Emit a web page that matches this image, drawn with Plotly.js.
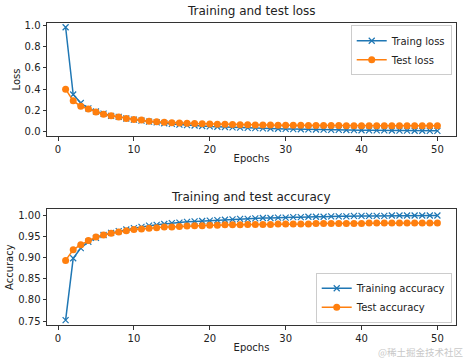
<!DOCTYPE html>
<html><head><meta charset="utf-8">
<script src="https://cdn.plot.ly/plotly-3.0.1.min.js"></script>
<style>html,body{margin:0;padding:0;background:#fff}#chart{width:474px;height:361px}</style>
</head><body><div id="chart"></div>
<script>
const epochs = Array.from({length: 50}, (_, i) => i + 1);
const trainLoss = [0.98,0.35,0.27,0.22,0.19,0.17,0.15,0.14,0.125,0.115,0.105,0.095,0.088,0.08,0.074,0.068,0.063,0.059,0.055,0.051,0.048,0.045,0.042,0.04,0.037,0.035,0.033,0.031,0.029,0.027,0.026,0.024,0.023,0.022,0.02,0.019,0.018,0.017,0.016,0.015,0.014,0.013,0.013,0.012,0.011,0.011,0.01,0.01,0.009,0.009];
const testLoss = [0.40,0.29,0.24,0.215,0.185,0.165,0.15,0.14,0.125,0.115,0.11,0.1,0.095,0.09,0.085,0.083,0.08,0.077,0.075,0.073,0.072,0.07,0.068,0.067,0.066,0.065,0.064,0.063,0.062,0.062,0.061,0.061,0.06,0.06,0.06,0.059,0.059,0.058,0.058,0.058,0.058,0.057,0.057,0.057,0.057,0.057,0.056,0.056,0.056,0.056];
const trainAcc = [0.752,0.898,0.922,0.937,0.946,0.953,0.958,0.962,0.966,0.969,0.972,0.975,0.977,0.979,0.981,0.982,0.984,0.985,0.986,0.987,0.988,0.989,0.990,0.991,0.991,0.992,0.993,0.993,0.994,0.994,0.995,0.995,0.996,0.996,0.996,0.997,0.997,0.997,0.998,0.998,0.998,0.998,0.998,0.999,0.999,0.999,0.999,0.999,0.999,0.999];
const testAcc = [0.893,0.918,0.930,0.940,0.948,0.953,0.957,0.960,0.963,0.966,0.967,0.969,0.970,0.972,0.972,0.973,0.974,0.975,0.975,0.976,0.976,0.977,0.977,0.977,0.978,0.978,0.978,0.978,0.979,0.979,0.979,0.979,0.979,0.980,0.980,0.980,0.980,0.980,0.980,0.980,0.981,0.981,0.981,0.981,0.981,0.981,0.981,0.981,0.981,0.981];
const xTicks = [0,10,20,30,40,50];
const lossTicks = [0.0,0.2,0.4,0.6,0.8,1.0];
const accTicks = [0.75,0.80,0.85,0.90,0.95,1.00];

const blue = '#1f77b4', orange = '#ff7f0e';
const font = {family: 'DejaVu Sans, sans-serif', size: 10, color: '#222'};

function tr(x, y, name, sym, color, xa, ya, leg) {
  return {x, y, name, type: 'scatter', mode: 'lines+markers', xaxis: xa, yaxis: ya, legend: leg,
    line: {color, width: 1.5},
    marker: sym === 'x' ? {symbol: 'x-thin', size: 6, line: {color, width: 1.2}, color}
                        : {symbol: 'circle', size: 7, color}};
}
const data = [
  tr(epochs, trainLoss, 'Traing loss', 'x', blue, 'x', 'y', 'legend'),
  tr(epochs, testLoss, 'Test loss', 'o', orange, 'x', 'y', 'legend'),
  tr(epochs, trainAcc, 'Training accuracy', 'x', blue, 'x2', 'y2', 'legend2'),
  tr(epochs, testAcc, 'Test accuracy', 'o', orange, 'x2', 'y2', 'legend2')
];
const axBase = {showgrid: false, zeroline: false, showline: true, mirror: true, linecolor: '#333', linewidth: 1,
  ticks: 'outside', ticklen: 3.5, tickcolor: '#333', tickfont: font};
const legBase = {bgcolor: 'rgba(255,255,255,0.8)', bordercolor: '#ccc', borderwidth: 1, font: font, tracegroupgap: 0, itemwidth: 30};
const layout = {
  width: 474, height: 361, margin: {l: 0, r: 0, t: 0, b: 0},
  paper_bgcolor: '#fff', plot_bgcolor: '#fff', font: font,
  xaxis: Object.assign({}, axBase, {domain: [0.0992, 0.962], anchor: 'y', range: [-1.45, 52.45], tickvals: xTicks,
    title: {text: 'Epochs', font: font, standoff: 1}}),
  yaxis: Object.assign({}, axBase, {domain: [0.623, 0.937], anchor: 'x', range: [-0.04, 1.022], tickvals: lossTicks, tickformat: '.1f',
    title: {text: 'Loss', font: font, standoff: 2}}),
  xaxis2: Object.assign({}, axBase, {domain: [0.0992, 0.962], anchor: 'y2', range: [-1.45, 52.45], tickvals: xTicks,
    title: {text: 'Epochs', font: font, standoff: 1}}),
  yaxis2: Object.assign({}, axBase, {domain: [0.0997, 0.420], anchor: 'x2', range: [0.7406, 1.0134], tickvals: accTicks, tickformat: '.2f',
    title: {text: 'Accuracy', font: font, standoff: 2}}),
  legend: Object.assign({}, legBase, {x: 0.953, y: 0.93, xanchor: 'right', yanchor: 'top'}),
  legend2: Object.assign({}, legBase, {x: 0.953, y: 0.106, xanchor: 'right', yanchor: 'bottom'}),
  annotations: [
    {text: 'Training and test loss', xref: 'paper', yref: 'paper', x: 0.53, y: 0.945, xanchor: 'center', yanchor: 'bottom', showarrow: false,
      font: {family: font.family, size: 12, color: '#222'}},
    {text: 'Training and test accuracy', xref: 'paper', yref: 'paper', x: 0.53, y: 0.428, xanchor: 'center', yanchor: 'bottom', showarrow: false,
      font: {family: font.family, size: 12, color: '#222'}},
    {text: '@稀土掘金技术社区', xref: 'paper', yref: 'paper', x: 0.98, y: 0.026, xanchor: 'right', yanchor: 'middle', showarrow: false,
      font: {family: 'Noto Sans CJK SC, sans-serif', size: 9.5, color: '#c8c8c8'}}
  ]
};
Plotly.newPlot('chart', data, layout, {staticPlot: true, displayModeBar: false});
</script></body></html>
